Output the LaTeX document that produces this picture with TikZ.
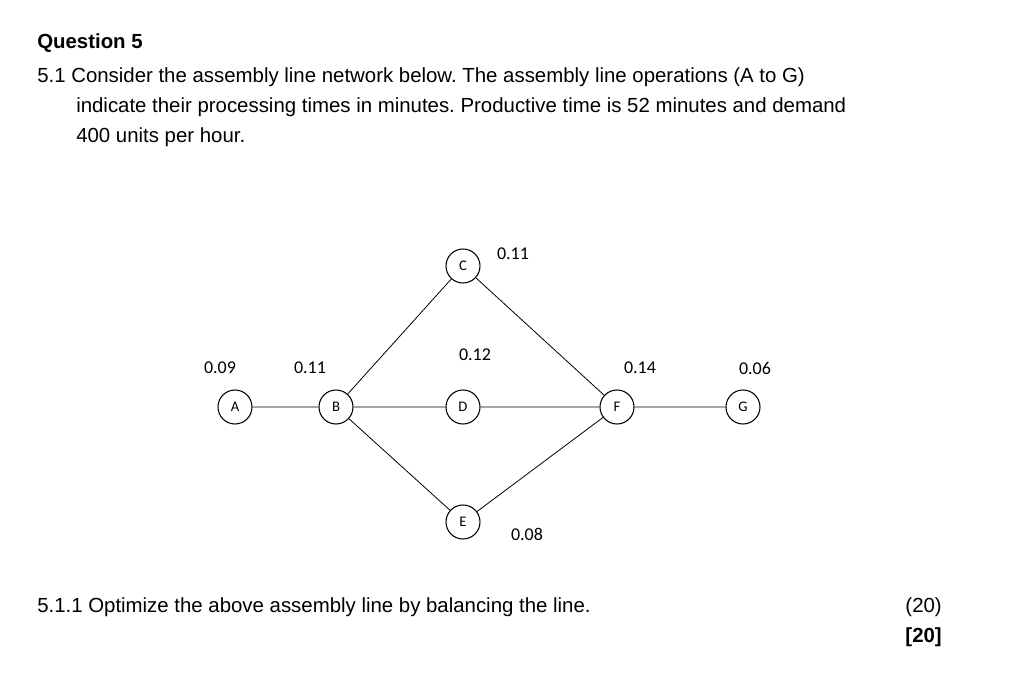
\documentclass[tikz,border=0pt]{standalone}
\usepackage{fontspec}
\setmainfont{Liberation Sans}
\newfontfamily\calib{Carlito}
\begin{document}
\frenchspacing
\begin{tikzpicture}[x=0.75pt,y=-0.75pt,
  op/.style={circle,draw,line width=0.8pt,minimum size=25.5pt,inner sep=0pt,font=\calib\fontsize{11}{12}\selectfont},
  tm/.style={font=\calib\fontsize{13.5}{15}\selectfont},
  body/.style={anchor=base west,font=\fontsize{15.3}{18}\selectfont,inner sep=0pt},
  edge/.style={line width=0.6pt}]
\useasboundingbox (0,0) rectangle (1032,689);
\node[body,font=\bfseries\fontsize{15.3}{18}\selectfont] (q) at (37,48) {Question 5};
\node[body] (l1) at (37,82) {5.1 Consider the assembly line network below. The assembly line operations (A to G)};
\node[body] (l2) at (76,112) {indicate their processing times in minutes. Productive time is 52 minutes and demand};
\node[body] (l3) at (76,142) {400 units per hour.};
\node[op] (A) at (235,407) {A};
\node[op] (B) at (336,407) {B};
\node[op] (C) at (463,266) {C};
\node[op] (D) at (463,407) {D};
\node[op] (E) at (463,522) {E};
\node[op] (F) at (617,407) {F};
\node[op] (G) at (743,407) {G};
\draw[edge] (A)--(B) (B)--(C) (B)--(D) (B)--(E) (C)--(F) (D)--(F) (E)--(F) (F)--(G);
\node[tm] (tA) at (220,368) {0.09};
\node[tm] (tB) at (310,368) {0.11};
\node[tm] (tC) at (513,254) {0.11};
\node[tm] (tD) at (475,355) {0.12};
\node[tm] (tF) at (640,368) {0.14};
\node[tm] (tG) at (755,368) {0.06};
\node[tm] (tE) at (527,534) {0.08};
\node[body] (q1) at (37,612) {5.1.1 Optimize the above assembly line by balancing the line.};
\node[body,anchor=base east] (m1) at (942,612) {(20)};
\node[body,anchor=base east,font=\bfseries\fontsize{15.3}{18}\selectfont] (m2) at (942,642) {[20]};
\end{tikzpicture}
\end{document}
